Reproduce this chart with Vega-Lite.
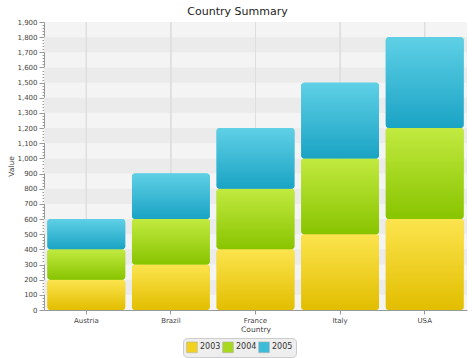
{
  "$schema": "https://vega.github.io/schema/vega-lite/v6.json",
  "width": 423,
  "height": 288,
  "autosize": {"type": "none"},
  "padding": {"left": 44, "top": 22, "right": 7, "bottom": 48},
  "background": "#ffffff",
  "title": {"text": "Country Summary", "anchor": "middle", "dx": -18, "offset": 1, "fontSize": 11, "fontWeight": "normal", "color": "#222222", "font": "DejaVu Sans"},
  "config": {
    "font": "DejaVu Sans",
    "view": {"fill": "#f4f4f4", "stroke": null},
    "axis": {"labelFont": "DejaVu Sans", "titleFont": "DejaVu Sans", "labelColor": "#444444", "titleColor": "#444444", "titleFontWeight": "normal", "domainColor": "#999999", "tickColor": "#999999"}
  },
  "datasets": {
    "bands": [
      {"lo": 100, "hi": 200}, {"lo": 300, "hi": 400}, {"lo": 500, "hi": 600},
      {"lo": 700, "hi": 800}, {"lo": 900, "hi": 1000}, {"lo": 1100, "hi": 1200},
      {"lo": 1300, "hi": 1400}, {"lo": 1500, "hi": 1600}, {"lo": 1700, "hi": 1800}
    ],
    "sales": [
      {"country": "Austria", "year": "2003", "value": 200},
      {"country": "Austria", "year": "2004", "value": 200},
      {"country": "Austria", "year": "2005", "value": 200},
      {"country": "Brazil", "year": "2003", "value": 300},
      {"country": "Brazil", "year": "2004", "value": 300},
      {"country": "Brazil", "year": "2005", "value": 300},
      {"country": "France", "year": "2003", "value": 400},
      {"country": "France", "year": "2004", "value": 400},
      {"country": "France", "year": "2005", "value": 400},
      {"country": "Italy", "year": "2003", "value": 500},
      {"country": "Italy", "year": "2004", "value": 500},
      {"country": "Italy", "year": "2005", "value": 500},
      {"country": "USA", "year": "2003", "value": 600},
      {"country": "USA", "year": "2004", "value": 600},
      {"country": "USA", "year": "2005", "value": 600}
    ]
  },
  "layer": [
    {
      "data": {"name": "bands"},
      "mark": {"type": "rect", "fill": "#ebebeb"},
      "encoding": {
        "y": {"field": "lo", "type": "quantitative", "scale": {"domain": [0, 1900], "nice": false}, "title": "Value"},
        "y2": {"field": "hi"}
      }
    },
    {
      "data": {"name": "sales"},
      "mark": {"type": "rule", "color": "#dedede", "strokeWidth": 1},
      "encoding": {
        "x": {"field": "country", "type": "nominal", "title": "Country", "axis": {"labelAngle": 0, "labelAlign": "center", "labelBaseline": "top"}}
      }
    },
    {
      "data": {"name": "sales"},
      "transform": [
        {"stack": "value", "groupby": ["country"], "sort": [{"field": "year", "order": "ascending"}], "as": ["v0", "v1"]}
      ],
      "encoding": {
        "x": {
          "field": "country", "type": "nominal",
          "scale": {"paddingInner": 0.08, "paddingOuter": 0.04},
          "axis": {"title": "Country", "labelAngle": 0, "labelAlign": "center", "labelBaseline": "top", "labelFontSize": 7, "titleFontSize": 7.5, "titlePadding": 2, "tickSize": 4, "labelPadding": 2, "grid": false}
        },
        "y": {
          "field": "v1", "type": "quantitative",
          "scale": {"domain": [0, 1900], "nice": false},
          "axis": {
            "title": "Value", "titleFontSize": 7.5, "labelFontSize": 7, "grid": false,
            "tickCount": 200,
            "values": [0,20,40,60,80,100,120,140,160,180,200,220,240,260,280,300,320,340,360,380,400,420,440,460,480,500,520,540,560,580,600,620,640,660,680,700,720,740,760,780,800,820,840,860,880,900,920,940,960,980,1000,1020,1040,1060,1080,1100,1120,1140,1160,1180,1200,1220,1240,1260,1280,1300,1320,1340,1360,1380,1400,1420,1440,1460,1480,1500,1520,1540,1560,1580,1600,1620,1640,1660,1680,1700,1720,1740,1760,1780,1800,1820,1840,1860,1880,1900],
            "labelExpr": "datum.value % 100 === 0 ? format(datum.value, ',') : ''",
            "labelOverlap": false,
            "labelPadding": 2,
            "tickSize": {"condition": {"test": "datum.value % 100 === 0", "value": 5}, "value": 2},
            "titlePadding": 1
          }
        },
        "y2": {"field": "v0"}
      },
      "layer": [
        {
          "mark": {"type": "bar", "cornerRadius": 3},
          "encoding": {
            "color": {
              "field": "year", "type": "nominal",
              "scale": {"domain": ["2003", "2004", "2005"], "range": ["#f2d21e", "#a8d820", "#3cbcd8"]},
              "legend": {
                "title": null, "orient": "none", "direction": "horizontal",
                "legendX": 139, "legendY": 316,
                "fillColor": "#eeeeee", "strokeColor": "#cccccc", "cornerRadius": 4, "padding": 3,
                "symbolType": "square", "symbolSize": 115, "symbolStrokeColor": "#aaaaaa", "symbolStrokeWidth": 0.5,
                "labelFontSize": 8, "labelColor": "#333333", "columnPadding": 0, "labelOffset": 2
              }
            }
          }
        },
        {
          "transform": [{"filter": "datum.year === '2003'"}],
          "mark": {"type": "bar", "cornerRadius": 3, "fill": {"gradient": "linear", "x1": 0, "y1": 0, "x2": 0, "y2": 1, "stops": [{"offset": 0, "color": "#fce44e"}, {"offset": 1, "color": "#e2be00"}]}}
        },
        {
          "transform": [{"filter": "datum.year === '2004'"}],
          "mark": {"type": "bar", "cornerRadius": 3, "fill": {"gradient": "linear", "x1": 0, "y1": 0, "x2": 0, "y2": 1, "stops": [{"offset": 0, "color": "#c2ea40"}, {"offset": 1, "color": "#88c400"}]}}
        },
        {
          "transform": [{"filter": "datum.year === '2005'"}],
          "mark": {"type": "bar", "cornerRadius": 3, "fill": {"gradient": "linear", "x1": 0, "y1": 0, "x2": 0, "y2": 1, "stops": [{"offset": 0, "color": "#5fd0e6"}, {"offset": 1, "color": "#1aa3c4"}]}}
        }
      ]
    }
  ]
}
